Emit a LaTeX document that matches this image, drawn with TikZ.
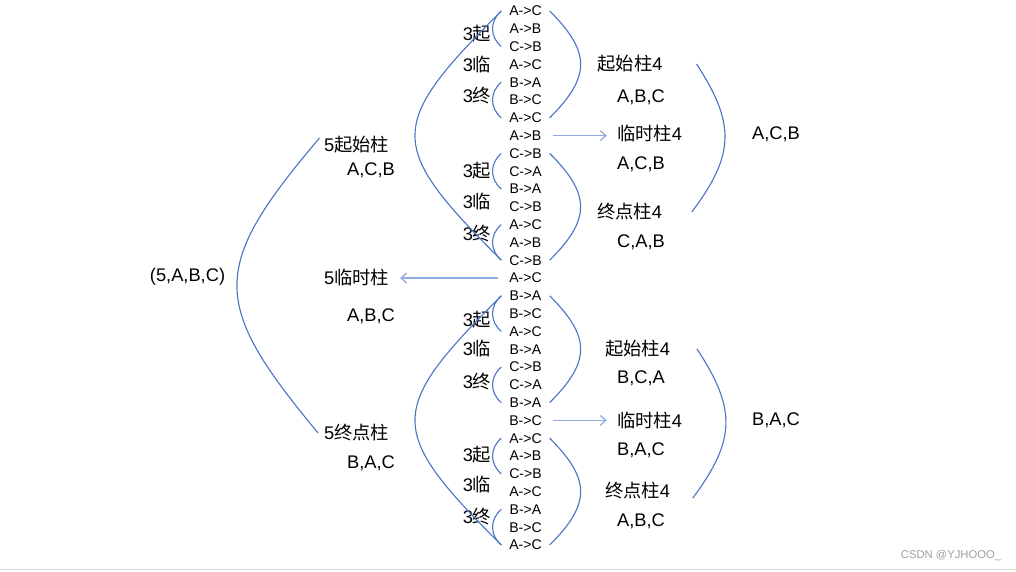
\documentclass[tikz,border=0pt]{standalone}
\usepackage{fontspec}
\setmainfont{Liberation Sans}
\newfontfamily\cjk{Noto Sans CJK SC}
\newcommand{\zh}[1]{{\cjk #1}}
\usetikzlibrary{arrows.meta}
\definecolor{bracecol}{RGB}{74,118,196}
\definecolor{arrowcol}{RGB}{143,170,220}

\begin{document}
\begin{tikzpicture}[x=0.025cm,y=0.025cm,
  lbl/.style={font=\fontsize{13}{15}\selectfont,inner sep=2pt},
  mv/.style={font=\fontsize{10}{12}\selectfont,inner sep=0pt,minimum width=34pt},
  brc/.style={draw=bracecol,line width=.8pt},
  arr/.style={draw=arrowcol,line width=.9pt,-{Straight Barb[length=4pt,width=7pt]}}]
  \useasboundingbox (0,0) rectangle (1016,-571);
  \draw[gray!25] (0,-569.5) -- (1016,-569.5);

  % five discs
  \node[lbl] (root) at (187.5,-277) {(5,A,B,C)};
  \node[lbl] (s5) at (356.5,-145) {5\zh{起始柱}};
  \node[lbl] (s5p) at (371,-170) {A,C,B};
  \node[lbl] (t5) at (356.5,-277) {5\zh{临时柱}};
  \node[lbl] (t5p) at (371,-316) {A,B,C};
  \node[lbl] (e5) at (356.5,-433) {5\zh{终点柱}};
  \node[lbl] (e5p) at (371,-463) {B,A,C};

  % the moves
  \foreach \mvtext [count=\i] in {A->C,A->B,C->B,A->C,B->A,B->C,A->C,A->B,
      C->B,C->A,B->A,C->B,A->C,A->B,C->B,A->C,B->A,B->C,A->C,B->A,
      C->B,C->A,B->A,B->C,A->C,A->B,C->B,A->C,B->A,B->C,A->C}
    \node[mv] (m\i) at (525.5,{-11-17.8*(\i-1)}) {\mvtext};

  % three discs
  \node[lbl] (ka1) at (477,-34) {3\zh{起}};
  \node[lbl] (kb1) at (477,-64) {3\zh{临}};
  \node[lbl] (kc1) at (477,-96) {3\zh{终}};
  \node[lbl] (ka2) at (477,-171) {3\zh{起}};
  \node[lbl] (kb2) at (477,-201) {3\zh{临}};
  \node[lbl] (kc2) at (477,-234) {3\zh{终}};
  \node[lbl] (ka3) at (477,-319.5) {3\zh{起}};
  \node[lbl] (kb3) at (477,-348) {3\zh{临}};
  \node[lbl] (kc3) at (477,-382) {3\zh{终}};
  \node[lbl] (ka4) at (477,-455) {3\zh{起}};
  \node[lbl] (kb4) at (477,-484) {3\zh{临}};
  \node[lbl] (kc4) at (477,-517) {3\zh{终}};

  % four discs
  \node[lbl] (s4a) at (630,-64) {\zh{起始柱}4};
  \node[lbl] (s4ap) at (641,-97) {A,B,C};
  \node[lbl] (t4a) at (649.5,-133) {\zh{临时柱}4};
  \node[lbl] (t4ap) at (641,-164) {A,C,B};
  \node[lbl] (e4a) at (629.5,-212) {\zh{终点柱}4};
  \node[lbl] (e4ap) at (641,-242) {C,A,B};
  \node[lbl] (ra) at (776,-134) {A,C,B};
  \node[lbl] (s4b) at (637.5,-349) {\zh{起始柱}4};
  \node[lbl] (s4bp) at (641,-378) {B,C,A};
  \node[lbl] (t4b) at (649.5,-420) {\zh{临时柱}4};
  \node[lbl] (t4bp) at (641,-450) {B,A,C};
  \node[lbl] (e4b) at (637.5,-491) {\zh{终点柱}4};
  \node[lbl] (e4bp) at (641,-521) {A,B,C};
  \node[lbl] (rb) at (776,-420) {B,A,C};

  \node[font=\fontsize{8}{10}\selectfont,text=gray!75] (mark) at (951,-556) {CSDN @YJHOOO\_};

  % braces
  \draw[brc] ([shift={(-1pt,5pt)}]s5.west) to[bend right=40,looseness=1.47] ([xshift=-2pt]e5.west);
  \foreach \a/\b in {1/15,17/31}
    \draw[brc] (m\a.west) to[bend right=45,looseness=1.675] (m\b.west);
  \foreach \a/\b in {1/3,5/7,9/11,13/15,17/19,21/23,25/27,29/31}
    \draw[brc] (m\a.west) to[bend right=50,looseness=1.1] (m\b.west);
  \foreach \a/\b in {1/7,9/15,17/23,25/31}
    \draw[brc] (m\a.east) to[bend left=45,looseness=1.4] (m\b.east);
  \draw[brc] ([xshift=22pt]s4a.east) to[bend left=35,looseness=1.235] ([xshift=19pt]e4a.east);
  \draw[brc] ([xshift=17pt]s4b.east) to[bend left=35,looseness=1.235] ([shift={(14pt,-5pt)}]e4b.east);

  % arrows
  \draw[arr,shorten <=2pt,shorten >=5pt] (m8.east) -- (m8.east -| t4a.west);
  \draw[arr,shorten <=2pt,shorten >=5pt] (m24.east) -- (m24.east -| t4b.west);
  \draw[arr,shorten <=2.5pt,shorten >=5.7pt] (m16.west) -- (m16.west -| t5.east);
\end{tikzpicture}
\end{document}
